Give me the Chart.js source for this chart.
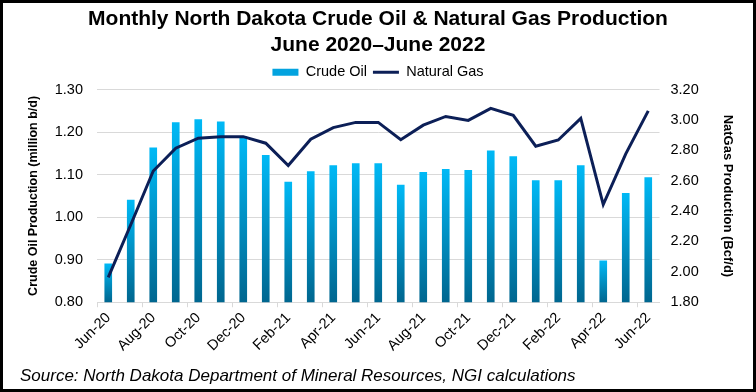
<!DOCTYPE html>
<html>
<head>
<meta charset="utf-8">
<script src="https://cdn.jsdelivr.net/npm/chart.js@4.4.1/dist/chart.umd.min.js"></script>
<style>
  html, body { margin: 0; padding: 0; background: #fff; }
  #wrap { width: 756px; height: 392px; position: relative; }
  canvas { display: block; }
</style>
</head>
<body>
<div id="wrap"><canvas id="c" width="756" height="392"></canvas></div>
<script>
const titleLines = ['Monthly North Dakota Crude Oil & Natural Gas Production', 'June 2020\u2013June 2022'];
const sourceText = 'Source: North Dakota Department of Mineral Resources, NGI calculations';
const categories = ['Jun-20','Jul-20','Aug-20','Sep-20','Oct-20','Nov-20','Dec-20','Jan-21','Feb-21','Mar-21','Apr-21','May-21','Jun-21','Jul-21','Aug-21','Sep-21','Oct-21','Nov-21','Dec-21','Jan-22','Feb-22','Mar-22','Apr-22','May-22','Jun-22'];
const crudeOil = [0.891, 1.041, 1.164, 1.223, 1.230, 1.225, 1.190, 1.146, 1.083, 1.108, 1.122, 1.127, 1.127, 1.076, 1.106, 1.113, 1.111, 1.157, 1.143, 1.087, 1.087, 1.122, 0.898, 1.057, 1.094];
const naturalGas = [1.964, 2.310, 2.664, 2.814, 2.880, 2.890, 2.890, 2.847, 2.700, 2.873, 2.950, 2.984, 2.984, 2.870, 2.966, 3.023, 2.997, 3.076, 3.030, 2.827, 2.868, 3.010, 2.443, 2.777, 3.060];
const leftTicks = [0.80, 0.90, 1.00, 1.10, 1.20, 1.30];
const rightTicks = [1.80, 2.00, 2.20, 2.40, 2.60, 2.80, 3.00, 3.20];
const seriesNames = ['Crude Oil', 'Natural Gas'];
const axisTitles = ['Crude Oil Production (million b/d)', 'NatGas Production (Bcf/d)'];

const FONT = "'Liberation Sans', Arial, sans-serif";
const GRID = '#D9D9D9';
const NAVY = '#0C1F57';

function barGradient(ctx) {
  const chart = ctx.chart;
  const area = chart.chartArea;
  if (!area || ctx.type !== 'data') return '#0099D4';
  const ys = chart.scales.y;
  const top = ys.getPixelForValue(ctx.raw);
  const bottom = ys.getPixelForValue(ys.min);
  const g = chart.ctx.createLinearGradient(0, top, 0, bottom);
  g.addColorStop(0, '#00B9F6');
  g.addColorStop(1, '#00668F');
  return g;
}

const borderPlugin = {
  id: 'frame',
  afterDraw(chart) {
    const c = chart.ctx;
    c.save();
    c.strokeStyle = '#000';
    c.lineWidth = 3;
    c.strokeRect(1.5, 1.5, chart.width - 3, chart.height - 3);
    c.restore();
  }
};

new Chart(document.getElementById('c'), {
  data: {
    labels: categories,
    datasets: [
      {
        type: 'bar',
        label: seriesNames[0],
        data: crudeOil,
        yAxisID: 'y',
        backgroundColor: barGradient,
        borderWidth: 0,
        barPercentage: 0.34,
        categoryPercentage: 1.0,
        order: 1
      },
      {
        type: 'line',
        label: seriesNames[1],
        data: naturalGas,
        yAxisID: 'y1',
        borderColor: NAVY,
        backgroundColor: NAVY,
        borderWidth: 3,
        pointRadius: 0,
        tension: 0,
        order: 0
      }
    ]
  },
  options: {
    responsive: false,
    animation: false,
    devicePixelRatio: 1,
    layout: { padding: { left: 20, right: 20, top: 6, bottom: 6 } },
    plugins: {
      title: {
        display: true,
        text: titleLines,
        color: '#000',
        font: { family: FONT, size: 21, weight: 'bold', lineHeight: 1.24 },
        padding: { top: 0, bottom: 1 }
      },
      subtitle: {
        display: true,
        text: sourceText,
        position: 'bottom',
        align: 'start',
        color: '#000',
        font: { family: FONT, size: 17, style: 'italic', lineHeight: 1.2 },
        padding: { top: 9, bottom: 0 }
      },
      legend: {
        display: true,
        position: 'top',
        labels: {
          color: '#000',
          font: { family: FONT, size: 14.5 },
          usePointStyle: true,
          pointStyleWidth: 26,
          boxHeight: 7,
          padding: 6,
          sort: (a, b) => a.datasetIndex - b.datasetIndex,
          generateLabels: (chart) => [
            { text: seriesNames[0], datasetIndex: 0, pointStyle: 'rect', fillStyle: '#03A3DF', strokeStyle: '#03A3DF', lineWidth: 0, fontColor: '#000', hidden: false },
            { text: seriesNames[1], datasetIndex: 1, pointStyle: 'line', fillStyle: NAVY, strokeStyle: NAVY, lineWidth: 3, fontColor: '#000', hidden: false }
          ]
        }
      },
      tooltip: { enabled: false }
    },
    scales: {
      x: {
        type: 'category',
        offset: true,
        grid: {
          offset: true,
          drawOnChartArea: false,
          drawTicks: true,
          tickLength: 5,
          color: (ctx) => (ctx.index % 2 === 0 ? GRID : 'rgba(0,0,0,0)'),
          tickColor: (ctx) => (ctx.index % 2 === 0 ? GRID : 'rgba(0,0,0,0)')
        },
        border: { display: true, color: GRID, width: 1 },
        ticks: {
          autoSkip: false,
          maxRotation: 45,
          minRotation: 45,
          padding: 2,
          color: '#000',
          font: { family: FONT, size: 14.5 },
          callback: (v, i) => (i % 2 === 0 ? categories[i] : '')
        }
      },
      y: {
        position: 'left',
        min: leftTicks[0],
        max: leftTicks[leftTicks.length - 1],
        afterBuildTicks: (s) => { s.ticks = leftTicks.map(v => ({ value: v })); },
        grid: { color: GRID, drawTicks: false, lineWidth: 1 },
        border: { display: false },
        ticks: {
          padding: 14,
          color: '#000',
          font: { family: FONT, size: 14.5 },
          callback: (v) => Number(v).toFixed(2)
        },
        title: {
          display: true,
          text: axisTitles[0],
          color: '#000',
          font: { family: FONT, size: 12.5, weight: 'bold', lineHeight: 1.2 },
          padding: { top: 6, bottom: 0 }
        },
        afterFit: (s) => { s.width = 77; }
      },
      y1: {
        position: 'right',
        min: rightTicks[0],
        max: rightTicks[rightTicks.length - 1],
        afterBuildTicks: (s) => { s.ticks = rightTicks.map(v => ({ value: v })); },
        grid: { drawOnChartArea: false, drawTicks: false },
        border: { display: false },
        ticks: {
          padding: 11,
          color: '#000',
          font: { family: FONT, size: 14.5 },
          callback: (v) => Number(v).toFixed(2)
        },
        title: {
          display: true,
          text: axisTitles[1],
          color: '#000',
          font: { family: FONT, size: 13, weight: 'bold', lineHeight: 1.2 },
          padding: { top: 1, bottom: 0 }
        },
        afterFit: (s) => { s.width = 76.5; }
      }
    }
  },
  plugins: [borderPlugin]
});
</script>
</body>
</html>
